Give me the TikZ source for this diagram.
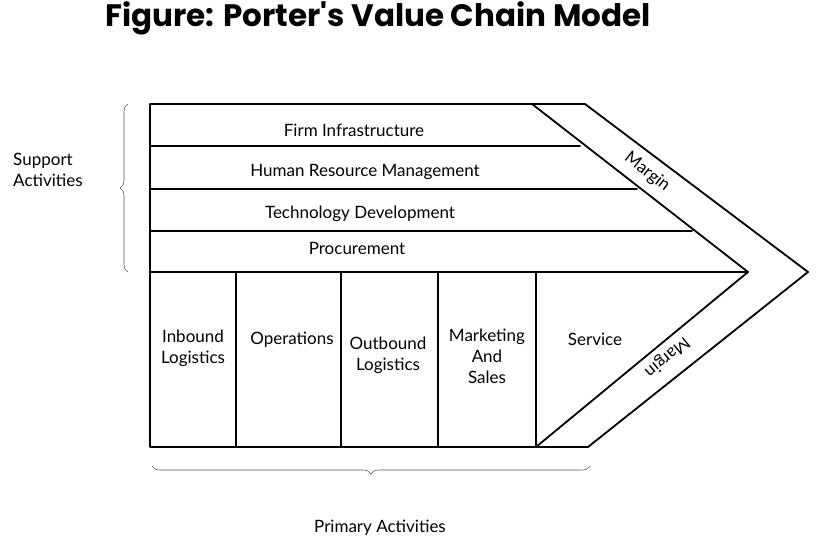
\documentclass[tikz,border=0pt]{standalone}
\usepackage{fontspec}
\setmainfont{Lato}
\usetikzlibrary{decorations.pathreplacing, positioning}

\begin{document}
\begin{tikzpicture}[line cap=round,line join=round,x=1pt,y=-1pt,
  box/.style={line width=1.8pt},
  lbl/.style={font=\fontsize{17}{21}\selectfont, align=center, inner sep=1pt},
  brc/.style={decorate, decoration={brace, amplitude=8pt}, line width=0.6pt, gray!70!black}]
\useasboundingbox (0,0) rectangle (820,545);
% Title
\node [font=\fontspec{Poppins}\bfseries\fontsize{31}{35}\selectfont] (title) at (378,18) {Figure: Porter's Value Chain Model};

% Outline
\coordinate (TL) at (150,104);
\coordinate (BL) at (150,447);
\coordinate (T) at (532,104);
\coordinate (To) at (585,104);
\coordinate (tip) at (808,272);
\coordinate (B) at (588,447);
\coordinate (in) at (748,272);
\coordinate (inB) at (536,447);
\draw [box] (TL) -- (To) -- (tip) -- (B) -- (BL) -- cycle;
\draw [box] (T) -- (in) -- (inB);

% Support rows
\draw [box] (150,146) -- (580,146);
\draw [box] (150,189) -- (637,189);
\draw [box] (150,231) -- (692,231);
\draw [box] (150,272) -- (in);

% Primary columns
\foreach \x in {236,341,438}
  \draw [box] (\x,272) -- (\x,447);
\draw [box] (536,272) -- (inB);

% Labels
\node [lbl] (firm) at (354,130) {Firm Infrastructure};
\node [lbl] (hrm) at (365,172) {Human Resource Management};
\node [lbl] (tech) at (360,214) {Technology Development};
\node [lbl] (proc) at (357,248) {Procurement};
\node [lbl] (inb) at (193,348) {Inbound\\Logistics};
\node [lbl] (ops) at (292,340) {Operations};
\node [lbl] (outb) at (388,355) {Outbound\\Logistics};
\node [lbl] (mkt) at (487,356) {Marketing\\And\\Sales};
\node [lbl] (serv) at (595,339) {Service};
\node [lbl, rotate=-38] (m1) at (647,172) {Margin};
\node [lbl, rotate=-140] (m2) at (667,357) {Margin};

% Braces
\draw [brc] (128,272) -- (128,104);
\node [lbl, align=left] (sup) at (48,170) {Support\\Activities};
\draw [brc] (590,466) -- (152,466);
\node [lbl] (prim) at (380,528) {Primary Activities};
\end{tikzpicture}
\end{document}
